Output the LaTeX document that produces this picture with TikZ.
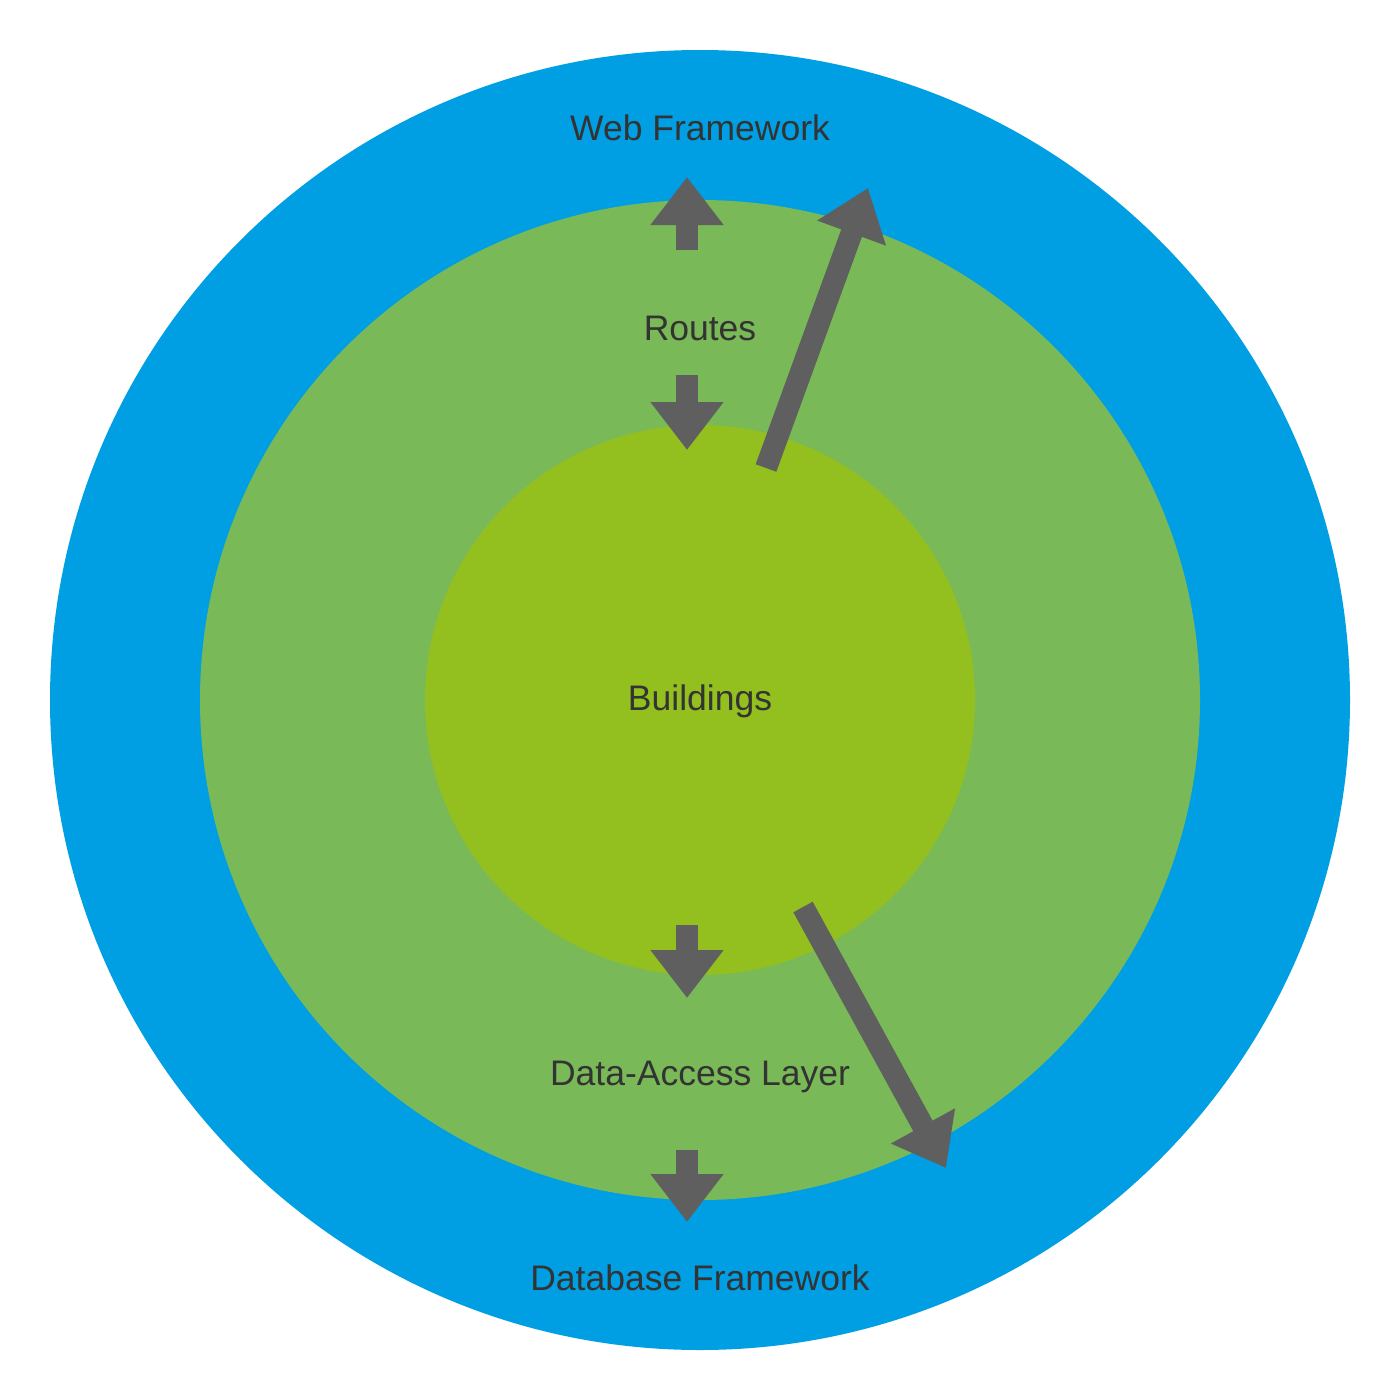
\documentclass[tikz,border=0pt]{standalone}
\usepackage{fontspec}
\setmainfont{Liberation Sans}
\usetikzlibrary{arrows.meta}
\definecolor{cblue}{HTML}{009FE3}
\definecolor{cgreen}{HTML}{7AB957}
\definecolor{clime}{HTML}{93C01F}
\definecolor{carrow}{HTML}{5F5F5F}
\definecolor{ctext}{HTML}{333333}
\begin{document}
\begin{tikzpicture}[x=1pt,y=-1pt,
  lbl/.style={text=ctext,font=\fontsize{35.5}{40}\selectfont,inner sep=0pt},
  fat/.style={draw=carrow,line width=22pt,-{Triangle[width=70pt,length=48pt]}}]
\useasboundingbox (0,0) rectangle (1400,1400);
\fill[white] (0,0) rectangle (1400,1400);
\node[circle,fill=cblue,minimum size=1300pt,inner sep=0pt] (outer) at (700,700) {};
\node[circle,fill=cgreen,minimum size=1000pt,inner sep=0pt] (mid) at (700,700) {};
\node[circle,fill=clime,minimum size=550pt,inner sep=0pt] (core) at (700,700) {};
\node[lbl] (web) at (700,128) {Web Framework};
\node[lbl] (routes) at (700,328) {Routes};
\node[lbl] (bld) at (700,701) {Buildings};
\node[lbl] (dal) at (700,1077) {Data-Access Layer};
\node[lbl] (db) at (700,1278) {Database Framework};
\coordinate (a1s) at (687,250); \coordinate (a1e) at (687,177);
\coordinate (a2s) at (687,375); \coordinate (a2e) at (687,450);
\coordinate (a3s) at (766,468); \coordinate (a3e) at (868,188);
\coordinate (a4s) at (687,925); \coordinate (a4e) at (687,998);
\coordinate (a5s) at (803,907); \coordinate (a5e) at (946,1168);
\coordinate (a6s) at (687,1150); \coordinate (a6e) at (687,1222);
\draw[fat] (a1s) -- (a1e);
\draw[fat] (a2s) -- (a2e);
\draw[fat] (a3s) -- (a3e);
\draw[fat] (a4s) -- (a4e);
\draw[fat] (a5s) -- (a5e);
\draw[fat] (a6s) -- (a6e);
\end{tikzpicture}
\end{document}
